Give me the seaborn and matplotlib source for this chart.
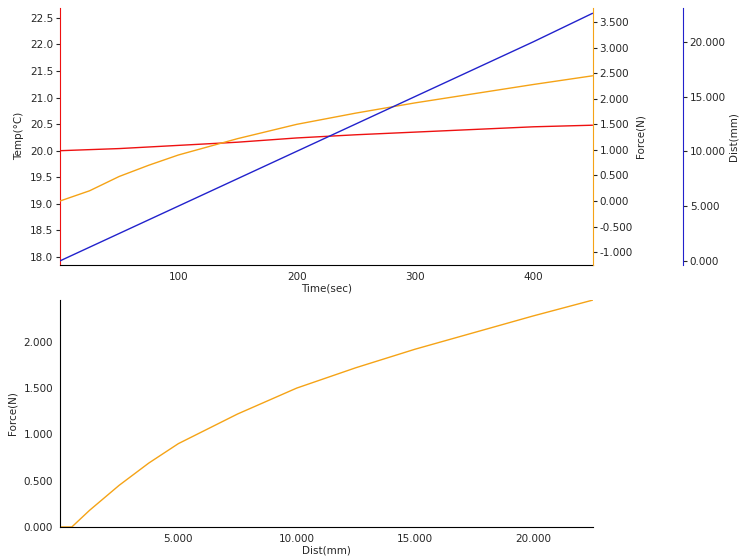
import numpy as np
import matplotlib
matplotlib.use("Agg")
import matplotlib.pyplot as plt
import matplotlib.ticker as mt
import seaborn as sns
import pandas as pd

sns.set_style("white")
plt.rcParams['font.family'] = ['DejaVu Sans']
plt.rcParams['font.size'] = 7.5

time_s = [0, 25, 50, 75, 100, 150, 200, 250, 300, 350, 400, 450]
temp_c = [20.0, 20.02, 20.04, 20.07, 20.1, 20.16, 20.24, 20.3, 20.35, 20.4, 20.45, 20.48]
force_t = [0.0, 0.2, 0.48, 0.7, 0.9, 1.22, 1.5, 1.72, 1.92, 2.1, 2.28, 2.45]
dist_t = [0, 1250, 2500, 3750, 5000, 7500, 10000, 12500, 15000, 17500, 20000, 22600]

dist_b = [0, 500, 1250, 2500, 3750, 5000, 7500, 10000, 12500, 15000, 17500, 20000, 22500]
force_b = [0.0, 0.0, 0.18, 0.45, 0.69, 0.9, 1.22, 1.5, 1.72, 1.92, 2.1, 2.28, 2.45]

df = pd.DataFrame({"t": time_s, "temp": temp_c, "force": force_t, "dist": dist_t})
db = pd.DataFrame({"dist": dist_b, "force": force_b})

RED, ORANGE, BLUE = "#ee1111", "#f5a316", "#2222cc"
fig = plt.figure(figsize=(7.5, 5.6), dpi=100)
ax = fig.add_axes([0.08, 0.527, 0.71, 0.459])
sns.lineplot(data=df, x="t", y="temp", color=RED, lw=1, ax=ax)
ax.set_xlim(0, 450); ax.set_ylim(17.85, 22.69)
ax.yaxis.set_major_locator(mt.MultipleLocator(0.5))
ax.xaxis.set_major_locator(mt.FixedLocator([100, 200, 300, 400]))
ax.set_ylabel("Temp(°C)")
ax.spines['left'].set_color(RED)
ax.spines['top'].set_visible(False)
ax.spines['right'].set_visible(False)

ax2 = ax.twinx()
sns.lineplot(data=df, x="t", y="force", color=ORANGE, lw=1, ax=ax2)
ax2.set_ylim(-1.25, 3.78)
ax2.yaxis.set_major_locator(mt.MultipleLocator(0.5))
ax2.yaxis.set_major_formatter(mt.FormatStrFormatter('%.3f'))
ax2.set_ylabel("Force(N)", labelpad=2)
ax2.spines['right'].set_color(ORANGE)
for s in ['top', 'left', 'bottom']:
    ax2.spines[s].set_visible(False)

ax3 = ax.twinx()
sns.lineplot(data=df, x="t", y="dist", color=BLUE, lw=1, ax=ax3)
ax3.set_ylim(-365, 23100)
ax3.spines['right'].set_position(('outward', 65))
ax3.spines['right'].set_color(BLUE)
for s in ['top', 'left', 'bottom']:
    ax3.spines[s].set_visible(False)
ax3.yaxis.set_major_locator(mt.MultipleLocator(5000))
ax3.yaxis.set_major_formatter(mt.FuncFormatter(lambda v, p: f"{v/1000:.3f}"))
ax3.set_ylabel("Dist(mm)", labelpad=2)

for a in (ax, ax2, ax3):
    a.tick_params(length=3, width=0.8, labelsize=7.5, pad=2)

bx = fig.add_axes([0.08, 0.059, 0.71, 0.405])
sns.lineplot(data=db, x="dist", y="force", color=ORANGE, lw=1, ax=bx)
bx.set_xlim(0, 22500); bx.set_ylim(0, 2.45)
bx.xaxis.set_major_locator(mt.FixedLocator([5000, 10000, 15000, 20000]))
bx.xaxis.set_major_formatter(mt.FuncFormatter(lambda v, p: f"{v/1000:.3f}"))
bx.yaxis.set_major_locator(mt.MultipleLocator(0.5))
bx.yaxis.set_major_formatter(mt.FormatStrFormatter('%.3f'))
bx.set_xlabel("Dist(mm)", labelpad=1); bx.set_ylabel("Force(N)")
bx.spines['top'].set_visible(False)
bx.spines['right'].set_visible(False)
bx.tick_params(length=3, width=0.8, labelsize=7.5, pad=2)
for a in (ax, bx):
    a.spines['bottom'].set_color('black'); a.spines['bottom'].set_linewidth(0.8)
bx.spines['left'].set_color('black')
ax.set_xlabel("Time(sec)", labelpad=1)

fig.savefig("out.png", dpi=100)
